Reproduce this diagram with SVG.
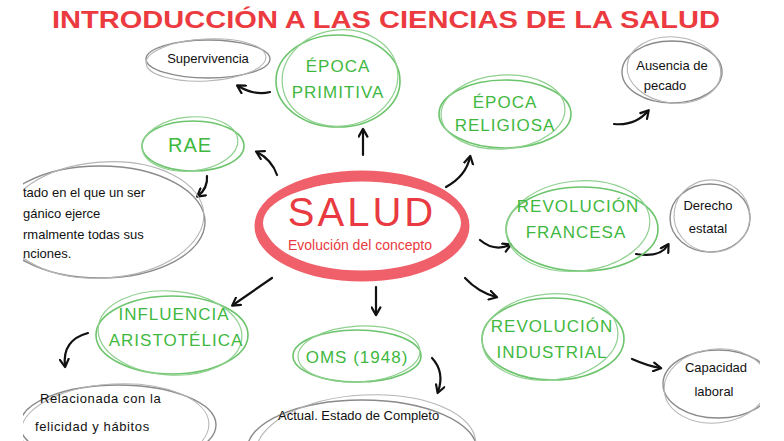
<svg xmlns="http://www.w3.org/2000/svg" width="784" height="441" viewBox="0 0 784 441">
<defs>
<style>
.g{fill:none;stroke:#6cc46c;stroke-width:1.6}
.g2{fill:none;stroke:#8fd08f;stroke-width:1.2}
.k{fill:none;stroke:#8a8a8a;stroke-width:1.4}
.k2{fill:none;stroke:#b5b5b5;stroke-width:1.1}
.gt{font-family:"Liberation Sans",sans-serif;fill:#3fb83f;font-size:17px;text-anchor:middle;letter-spacing:1px}
.bt{font-family:"Liberation Sans",sans-serif;fill:#111;font-size:13px}
.bc{text-anchor:middle}
.a{fill:none;stroke:#111;stroke-width:2.2;stroke-linecap:round;marker-end:url(#ah)}
</style>
<marker id="ah" viewBox="0 0 10 10" refX="7" refY="5" markerWidth="5" markerHeight="5" orient="auto-start-reverse">
<path d="M1,1 L8,5 L1,9" fill="none" stroke="#111" stroke-width="2" stroke-linecap="round" stroke-linejoin="round"/>
</marker>
<clipPath id="cl"><rect x="23" y="0" width="761" height="441"/></clipPath>
<clipPath id="cr"><rect x="0" y="0" width="760" height="441"/></clipPath>
</defs>
<rect width="784" height="441" fill="#fff"/>
<text x="52" y="28" textLength="668" lengthAdjust="spacingAndGlyphs" font-family="Liberation Sans,sans-serif" font-size="24" font-weight="bold" fill="#ec3b40">INTRODUCCIÓN A LAS  CIENCIAS DE LA SALUD</text>
<g id="connectors">
<path class="a" d="M270,92 Q255,96 238,86"/>
<path class="a" d="M363,155 L363,130"/>
<path class="a" d="M614,124 Q635,126 648,111"/>
<path class="a" d="M277,175 Q272,160 257,152"/>
<path class="a" d="M207,176 Q208,188 198,196"/>
<path class="a" d="M446,187 Q466,176 470,157"/>
<path class="a" d="M480,240 Q494,252 510,245"/>
<path class="a" d="M636,254 Q660,258 668,245"/>
<path class="a" d="M465,278 Q478,292 496,297"/>
<path class="a" d="M376,287 L376,314"/>
<path class="a" d="M272,278 L233,305"/>
<path class="a" d="M88,333 Q62,340 65,366"/>
<path class="a" d="M432,358 Q445,372 438,392"/>
<path class="a" d="M632,359 Q648,366 660,368"/>
</g>
<g id="salud">
<ellipse cx="362" cy="226" rx="102" ry="50" fill="#fff" stroke="#f0606a" stroke-width="11"/>
<ellipse cx="362" cy="223" rx="99" ry="41" fill="#fff" stroke="none"/>
<text x="362" y="226" font-family="Liberation Sans,sans-serif" font-size="40" fill="#e83a40" text-anchor="middle" letter-spacing="3">SALUD</text>
<text x="360" y="250" font-family="Liberation Sans,sans-serif" font-size="14" fill="#e83a40" text-anchor="middle">Evolución del concepto</text>
</g>
<g id="supervivencia">
<ellipse class="k" cx="208" cy="59" rx="62" ry="19"/>
<ellipse class="k2" cx="206" cy="60" rx="60" ry="21" transform="rotate(-3 206 60)"/>
<text class="bt bc" x="208" y="63">Supervivencia</text>
</g>
<g id="epoca-primitiva">
<ellipse class="g" cx="338" cy="81" rx="62" ry="46"/>
<ellipse class="g2" cx="340" cy="78" rx="58" ry="48" transform="rotate(-8 340 78)"/>
<text class="gt" x="338" y="72">ÉPOCA</text>
<text class="gt" x="338" y="98">PRIMITIVA</text>
</g>
<g id="epoca-religiosa">
<ellipse class="g" cx="505" cy="114" rx="66" ry="34"/>
<ellipse class="g2" cx="503" cy="112" rx="62" ry="37" transform="rotate(-4 503 112)"/>
<text class="gt" x="505" y="108">ÉPOCA</text>
<text class="gt" x="505" y="131">RELIGIOSA</text>
</g>
<g id="ausencia">
<ellipse class="k" cx="672" cy="72" rx="50" ry="31"/>
<ellipse class="k2" cx="674" cy="70" rx="47" ry="33" transform="rotate(6 674 70)"/>
<text class="bt bc" x="672" y="70">Ausencia de</text>
<text class="bt bc" x="665" y="90">pecado</text>
</g>
<g id="rae">
<ellipse class="g" cx="193" cy="146" rx="51" ry="25"/>
<ellipse class="g2" cx="190" cy="144" rx="48" ry="27" transform="rotate(-5 190 144)"/>
<text class="gt" x="190" y="152" style="font-size:20px">RAE</text>
</g>
<g id="rae-def">
<g clip-path="url(#cl)">
<ellipse class="k" cx="100" cy="222" rx="105" ry="56"/>
<ellipse class="k2" cx="104" cy="220" rx="100" ry="58" transform="rotate(-4 104 220)"/>
</g>
<text class="bt" x="23" y="197">tado en el que un ser</text>
<text class="bt" x="23" y="218">gánico ejerce</text>
<text class="bt" x="23" y="239">rmalmente todas sus</text>
<text class="bt" x="23" y="258">nciones.</text>
</g>
<g id="rev-francesa">
<ellipse class="g" cx="582" cy="229" rx="76" ry="42"/>
<ellipse class="g2" cx="578" cy="226" rx="72" ry="45" transform="rotate(-6 578 226)"/>
<text class="gt" x="578" y="212">REVOLUCIÓN</text>
<text class="gt" x="576" y="238">FRANCESA</text>
</g>
<g id="derecho">
<ellipse class="k" cx="710" cy="218" rx="40" ry="34"/>
<ellipse class="k2" cx="712" cy="216" rx="38" ry="36" transform="rotate(8 712 216)"/>
<text class="bt bc" x="708" y="210">Derecho</text>
<text class="bt bc" x="708" y="233">estatal</text>
</g>
<g id="influencia">
<ellipse class="g" cx="172" cy="335" rx="76" ry="39"/>
<ellipse class="g2" cx="170" cy="333" rx="72" ry="42" transform="rotate(4 170 333)"/>
<text class="gt" x="174" y="320">INFLUENCIA</text>
<text class="gt" x="176" y="346">ARISTOTÉLICA</text>
</g>
<g id="influencia-def">
<g clip-path="url(#cl)">
<ellipse class="k" cx="118" cy="425" rx="98" ry="40"/>
<ellipse class="k2" cx="115" cy="428" rx="94" ry="44" transform="rotate(-3 115 428)"/>
</g>
<text class="bt" x="40" y="403" letter-spacing="0.6">Relacionada con la</text>
<text class="bt" x="35" y="431" letter-spacing="0.6">felicidad y hábitos</text>
</g>
<g id="oms">
<ellipse class="g" cx="357" cy="356" rx="64" ry="26"/>
<ellipse class="g2" cx="359" cy="354" rx="61" ry="28" transform="rotate(-3 359 354)"/>
<text class="gt" x="357" y="363">OMS (1948)</text>
</g>
<g id="oms-def">
<ellipse class="k" cx="362" cy="450" rx="115" ry="50"/>
<ellipse class="k2" cx="366" cy="448" rx="110" ry="53" transform="rotate(-3 366 448)"/>
<text class="bt" x="278" y="420">Actual.  Estado de Completo</text>
</g>
<g id="rev-industrial">
<ellipse class="g" cx="553" cy="339" rx="71" ry="41"/>
<ellipse class="g2" cx="550" cy="337" rx="68" ry="43" transform="rotate(-5 550 337)"/>
<text class="gt" x="552" y="332">REVOLUCIÓN</text>
<text class="gt" x="552" y="358">INDUSTRIAL</text>
</g>
<g id="capacidad">
<g clip-path="url(#cr)">
<ellipse class="k" cx="718" cy="384" rx="55" ry="34"/>
<ellipse class="k2" cx="716" cy="386" rx="52" ry="37" transform="rotate(-6 716 386)"/>
</g>
<text class="bt bc" x="716" y="372">Capacidad</text>
<text class="bt bc" x="714" y="396">laboral</text>
</g>
</svg>
